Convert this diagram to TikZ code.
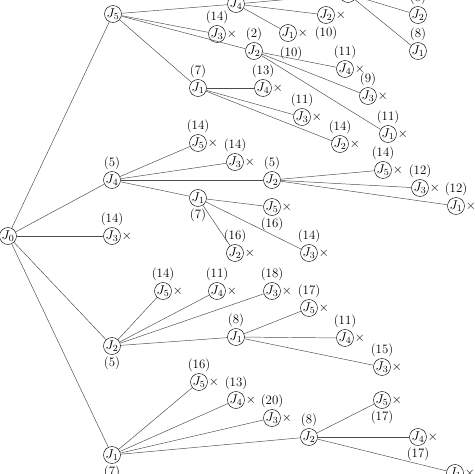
\documentclass[tikz,border=0pt]{standalone}
\usetikzlibrary{positioning}
\tikzset{
  every node/.style={
    font=\fontsize{11}{13}\selectfont
  },
  job/.style={
    shape=circle,
    draw=black,
    inner sep=0pt,
    minimum size=0.51cm
  },
  cut/.style={label={[label distance=-2.5pt]right:$\times$}},
  cost/.style={label={[label distance=-2pt]above:(#1)}},
  costbelow/.style={label={[label distance=-2pt]below:(#1)}},
  branch/.style={draw=black!70}
}
\begin{document}
\begin{tikzpicture}[x=0.03cm,y=-0.03cm]
  \useasboundingbox (0,0) rectangle (474,474);
  % root
  \node [job] (n0) at (8,236) {$J_0$};
  % first branch
  \node [job] (a) at (113,14) {$J_5$};
  \node [job] (a4) at (236,4) {$J_4$};
  \node [job,cost=14,cut] (a3) at (217,34) {$J_3$};
  \node [job,cost=2] (a2) at (254,51) {$J_2$};
  \node [job,cost=7] (a1) at (198,88) {$J_1$};
  \node [job] (a43) at (348,-6) {$J_3$};
  \node [job,cut] (a42) at (326,15) {$J_2$};
  \node [job,cut] (a41) at (288,33) {$J_1$};
  \node (a41c) at (326,33) {(10)};
  \node [job,cost=8] (a432) at (418,15) {$J_2$};
  \node [job,cost=8] (a431) at (418,51) {$J_1$};
  \node (a2c) at (291,53) {(10)};
  \node [job,cost=11,cut] (a24) at (345,69) {$J_4$};
  \node [job,cost=9,cut] (a23) at (368,96) {$J_3$};
  \node [job,cost=11,cut] (a21) at (388,134) {$J_1$};
  \node [job,cost=13,cut] (a14) at (263,88) {$J_4$};
  \node [job,cost=11,cut] (a13) at (302,117) {$J_3$};
  \node [job,cost=14,cut] (a12) at (340,144) {$J_2$};
  % second branch
  \node [job,cost=5] (b) at (112,180) {$J_4$};
  \node [job,cost=14,cut] (b5) at (198,143) {$J_5$};
  \node [job,cost=14,cut] (b3) at (235,162) {$J_3$};
  \node [job,cost=5] (b2) at (272,180) {$J_2$};
  \node [job,costbelow=7] (b1) at (198,198) {$J_1$};
  \node [job,cost=14,cut] (b25) at (383,170) {$J_5$};
  \node [job,cost=12,cut] (b23) at (420,188) {$J_3$};
  \node [job,cost=12,cut] (b21) at (456,206) {$J_1$};
  \node [job,costbelow=16,cut] (b15) at (272,207) {$J_5$};
  \node [job,cost=16,cut] (b12) at (235,253) {$J_2$};
  \node [job,cost=14,cut] (b13) at (309,253) {$J_3$};
  % third branch
  \node [job,cost=14,cut] (c) at (112,236) {$J_3$};
  % fourth branch
  \node [job,costbelow=5] (d) at (112,346) {$J_2$};
  \node [job,cost=14,cut] (d5) at (163,291) {$J_5$};
  \node [job,cost=11,cut] (d4) at (217,291) {$J_4$};
  \node [job,cost=18,cut] (d3) at (272,291) {$J_3$};
  \node [job,cost=8] (d1) at (236,337) {$J_1$};
  \node [job,cost=17,cut] (d15) at (309,308) {$J_5$};
  \node [job,cost=11,cut] (d14) at (345,338) {$J_4$};
  \node [job,cost=15,cut] (d13) at (382,367) {$J_3$};
  % fifth branch
  \node [job,costbelow=7] (e) at (112,455) {$J_1$};
  \node [job,cost=16,cut] (e5) at (199,382) {$J_5$};
  \node [job,cost=13,cut] (e4) at (236,400) {$J_4$};
  \node [job,cost=20,cut] (e3) at (272,418) {$J_3$};
  \node [job,cost=8] (e2) at (309,437) {$J_2$};
  \node [job,costbelow=17,cut] (e25) at (382,400) {$J_5$};
  \node [job,costbelow=17,cut] (e24) at (418,437) {$J_4$};
  \node [job,cut] (e21) at (455,473) {$J_1$};
  % connectors
  \foreach \c in {a,b,c,d,e} \draw [branch] (n0) -- (\c);
  \foreach \c in {a4,a3,a2,a1} \draw [branch] (a) -- (\c);
  \foreach \c in {a43,a42,a41} \draw [branch] (a4) -- (\c);
  \foreach \c in {a432,a431} \draw [branch] (a43) -- (\c);
  \foreach \c in {a24,a23,a21} \draw [branch] (a2) -- (\c);
  \foreach \c in {a14,a13,a12} \draw [branch] (a1) -- (\c);
  \foreach \c in {b5,b3,b2,b1} \draw [branch] (b) -- (\c);
  \foreach \c in {b25,b23,b21} \draw [branch] (b2) -- (\c);
  \foreach \c in {b15,b12,b13} \draw [branch] (b1) -- (\c);
  \foreach \c in {d5,d4,d3,d1} \draw [branch] (d) -- (\c);
  \foreach \c in {d15,d14,d13} \draw [branch] (d1) -- (\c);
  \foreach \c in {e5,e4,e3,e2} \draw [branch] (e) -- (\c);
  \foreach \c in {e25,e24,e21} \draw [branch] (e2) -- (\c);
\end{tikzpicture}
\end{document}
